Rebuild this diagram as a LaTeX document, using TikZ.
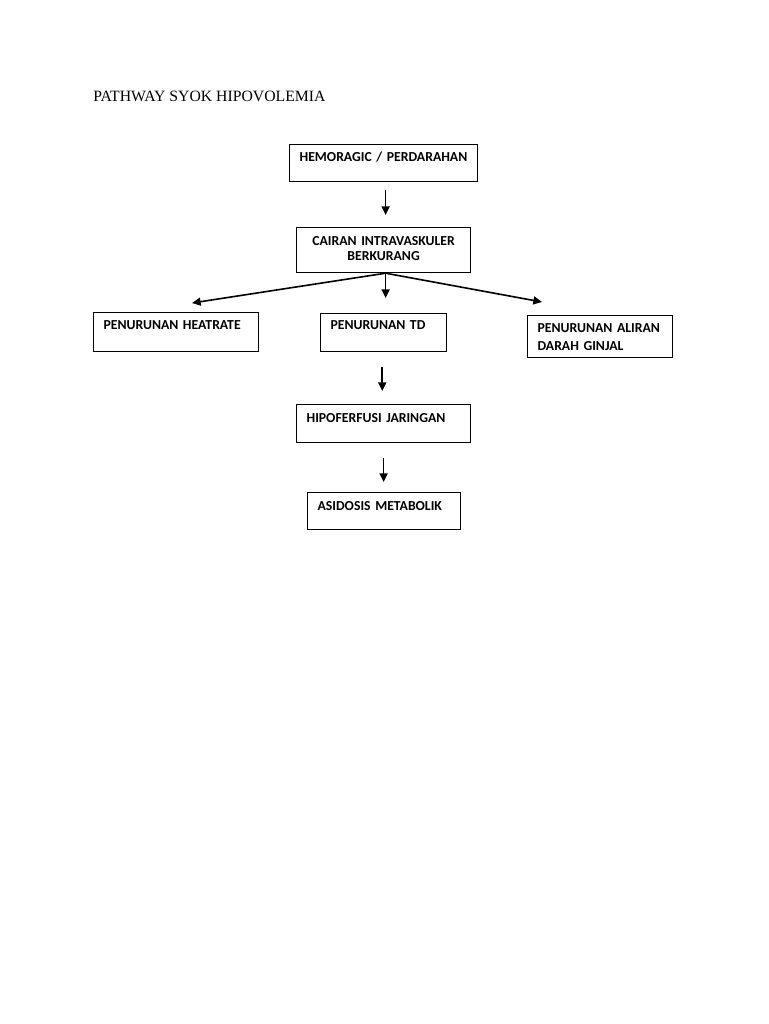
\documentclass[tikz,border=0pt]{standalone}
\usepackage{fontspec}
\setmainfont{Liberation Serif}
\newfontfamily\boxfont{Carlito}
\usetikzlibrary{arrows.meta}

\begin{document}
\begin{tikzpicture}[
    x=0.75pt, y=-0.75pt,
    box/.style={rectangle, draw, line width=0.9pt, anchor=north west, inner xsep=0pt, inner ysep=0pt,
        font=\boxfont\bfseries\fontsize{10.3}{12.4}\selectfont},
    lbox/.style={box, align=left, execute at begin node={\leftskip=7.5pt}},
    cbox/.style={box, align=center},
    arrow/.style={-{Triangle[length=6.5pt, width=6pt]}, line width=1.2pt},
    title/.style={anchor=base west, inner sep=0pt, font=\fontsize{11.8}{14}\selectfont}
]
\useasboundingbox (0,0) rectangle (768,1024);
% Title
\node[title] (title) at (93,101) {PATHWAY SYOK HIPOVOLEMIA};
% Cause
\node[lbox, text width=141pt, text height=12.75pt, text depth=15pt] (hemo) at (289,144) {HEMORAGIC / PERDARAHAN};
% Fluid loss
\node[cbox, text width=130.5pt, text height=13.5pt, text depth=20.25pt] (cairan) at (296,227) {CAIRAN INTRAVASKULER\\[-1.15pt]BERKURANG};
% Effects
\node[lbox, text width=123.75pt, text height=12.75pt, text depth=16.5pt] (heatrate) at (93,312) {PENURUNAN HEATRATE};
\node[lbox, text width=94.5pt, text height=12pt, text depth=16.5pt] (td) at (320,313) {PENURUNAN TD};
\node[lbox, text width=108.75pt, text height=12.75pt, text depth=18.75pt] (aliran) at (527,315) {PENURUNAN ALIRAN\\[1.1pt]DARAH GINJAL};
% Perfusion
\node[lbox, text width=130.5pt, text height=13.5pt, text depth=15pt] (hipo) at (296,404) {HIPOFERFUSI JARINGAN};
% Acidosis
\node[lbox, text width=114.75pt, text height=13.5pt, text depth=14.25pt] (asidosis) at (307,492) {ASIDOSIS METABOLIK};
% Free arrow ends
\coordinate (lefttip) at (192,303);
\coordinate (righttip) at (542,302);
% Arrows
\draw[arrow, shorten <=6pt, shorten >=9pt] ([xshift=1.5pt]hemo.south) -- ([xshift=1.5pt]hemo.south |- cairan.north);
\draw[arrow, shorten >=11.25pt] ([xshift=1.5pt]cairan.south) -- ([xshift=1.5pt]cairan.south |- td.north);
\draw[arrow] ([xshift=1.5pt]cairan.south) -- (lefttip);
\draw[arrow] ([xshift=1.5pt]cairan.south) -- (righttip);
\draw[arrow, shorten <=11.25pt, shorten >=9.75pt] ([xshift=-1pt]td.south) -- ([xshift=-1pt]td.south |- hipo.north);
\draw[arrow, shorten <=11.25pt, shorten >=7.5pt] (hipo.south) -- (hipo.south |- asidosis.north);
\end{tikzpicture}
\end{document}
